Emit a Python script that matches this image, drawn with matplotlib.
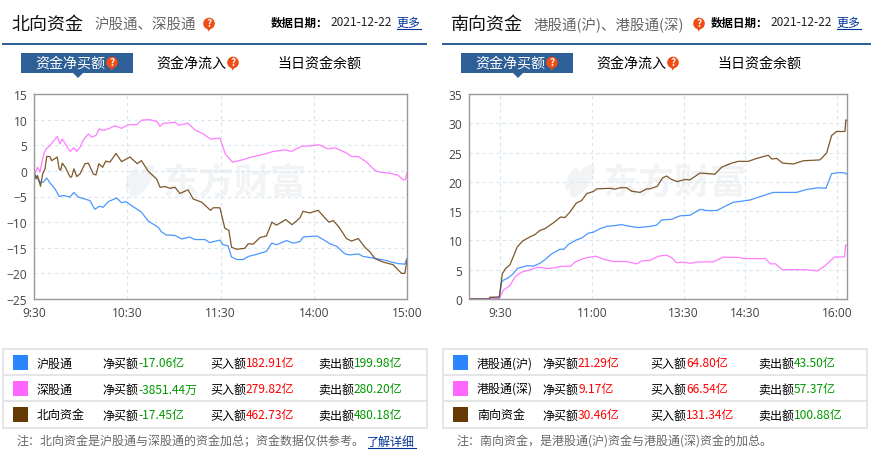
import matplotlib
matplotlib.use('Agg')
from matplotlib import pyplot as plt
from matplotlib.patches import Rectangle, Circle, Polygon, Ellipse

plt.rcParams['font.family'] = ['Noto Sans CJK SC', 'DejaVu Sans']

# --- northbound panel: minutes since 9:30, values in 100m yuan
hgt_minutes = [0, 1.5, 3.6, 5.8, 8, 10, 13.3, 16, 18.7, 23, 25.5, 28.3, 32.6, 35.8, 39, 41.8, 44.4, 47.6, 53, 56.2, 59, 63.7, 69, 73.4, 79.8, 81.9, 85, 90.6, 95, 99.8, 103.4, 109.9, 113, 119.5, 121.5, 124.7, 127, 130.3, 134.5, 137.8, 143, 149.5, 152.8, 156, 162.5, 166.8, 171, 173.2, 181.8, 185, 190.3, 194.6, 200, 203.2, 208.6, 211.8, 218.2, 226.8, 230, 234.4, 238.6, 240]
hgt_values = [-0.6, -1.2, -2.2, -2.2, -1.4, -2.3, -3.5, -5, -4.8, -5.1, -4.2, -5.1, -5.5, -5.8, -7.5, -6.9, -7.1, -6, -5.3, -6.2, -6, -7, -8.05, -9.8, -11, -11.9, -12.5, -12.6, -13.3, -12.9, -13.4, -13.4, -14, -13.5, -14.4, -14.6, -16.8, -17.3, -17.3, -16.7, -16.3, -15.7, -14.1, -14.4, -13.6, -14.1, -13.8, -12.9, -12.7, -13.2, -14.2, -14.7, -16.2, -16.4, -16.2, -16.7, -17, -17.5, -17.8, -18.1, -18.2, -17.06]

sgt_minutes = [0, 1, 2.1, 3.6, 4.7, 6.4, 8, 10, 11.8, 14.8, 16.5, 18, 20, 23, 25.5, 27.3, 29.4, 31.5, 34.8, 36.9, 39.7, 41.8, 44.4, 47.6, 52, 56.2, 60.5, 65.9, 69, 74.5, 79, 81, 83, 87.3, 90.6, 93, 99, 103.4, 108.8, 113.5, 119.5, 123, 127.7, 134.5, 139.9, 147.4, 153.9, 161.4, 165.7, 172, 178.6, 183.5, 189, 193.6, 201, 204.3, 208.6, 214, 219.3, 222.5, 229, 234.4, 237.6, 238.9, 240]
sgt_values = [-0.45, -0.06, 0.7, -0.26, 1.36, 3.6, 4.4, 4.9, 5.6, 6.7, 5.26, 6.2, 5.26, 3.8, 4.5, 3.8, 4.6, 6, 7.2, 6.6, 6.9, 8.2, 7.9, 8.2, 8.8, 8.3, 9, 9, 9.9, 10, 9.6, 8.7, 9.3, 9.35, 9.5, 8.9, 9.3, 8, 7.2, 6.2, 6.4, 3.3, 1.7, 2.2, 2.7, 3.2, 3.8, 4.1, 3.8, 4.8, 4.9, 5.1, 4.3, 4.5, 3.5, 2.8, 2.8, 1.7, 0.1, -0.25, -0.45, -0.9, -1.75, -1.75, -0.39]

north_minutes = [0, 1, 2.1, 4, 5.4, 6.9, 8, 10, 11.2, 14.8, 16, 17, 18, 20, 23, 24, 25.5, 27.3, 29.4, 32.6, 34.8, 38, 39.7, 41.6, 44, 46, 48.7, 52.6, 56.2, 61.6, 66.3, 69, 73.4, 78.8, 81, 84, 87.3, 90.6, 93.8, 99, 102.4, 107.7, 113.5, 115.2, 119.5, 122.7, 125.3, 127, 130.3, 135.6, 137.8, 141, 145.3, 149.5, 153, 155.9, 161.9, 166, 171, 173, 177.4, 182.8, 186, 189.7, 192.5, 196.3, 201, 204.3, 208.6, 212.9, 216.1, 219.3, 224.7, 231, 236.5, 238.6, 240]
north_values = [-0.25, -1.55, -0.9, -3, -0.6, 0.4, 2.8, 2.8, 2, 2.7, 0.4, 0.1, 1.5, 0.7, -1.2, -1.2, 0.4, -1.1, -0.6, 1.4, 1.5, -0.6, -0.8, 1.4, 0.7, 1.9, 1.7, 3.4, 1.8, 2.7, 1.4, 2, -0.1, -1.6, -3.2, -3.05, -3.4, -3.2, -4.4, -3.7, -5.5, -6.1, -7.7, -7.2, -7.2, -11.2, -11.6, -14.9, -15.3, -15.1, -14.2, -14.3, -13, -12.7, -10, -10.6, -9.5, -10.5, -9.2, -7.9, -8.2, -7.7, -8.8, -10, -9.7, -11, -13.2, -13.7, -13.2, -14.9, -15.8, -17.1, -17.8, -18.3, -20, -20, -17.45]

# --- southbound panel: minutes since 9:00, lunch break removed
ggt_sh_minutes = [0, 20, 20.1, 29.4, 31.7, 33.3, 38, 43, 47, 51.3, 57.8, 62.7, 69.2, 74, 80.7, 88.8, 92.7, 97, 105, 110, 116.6, 121.5, 128, 134.5, 141, 149, 157.4, 165.5, 172, 177, 183.5, 188.4, 198, 206.4, 216.2, 226, 232.5, 242.3, 258.3, 274.9, 297.8, 320.6, 330.4, 341.9, 349.4, 354.9, 363, 368, 370]
ggt_sh_values = [0, 0.05, 0.2, 0.2, 2.9, 3.2, 3.6, 4.3, 5.2, 5.45, 5.7, 5.6, 6.1, 6.7, 7.7, 8.5, 8.5, 9.3, 10.1, 10.4, 11.25, 11.4, 12, 12.4, 12.5, 12.7, 12.4, 12.2, 12.3, 12.4, 12.6, 13.5, 13.6, 14.2, 14.3, 15.3, 15.1, 15.1, 16.5, 16.9, 18.2, 18.2, 18.7, 19, 18.9, 21.4, 21.6, 21.5, 21.29]

ggt_sz_minutes = [0, 20, 29.4, 33.3, 39.8, 44.7, 51.3, 57.8, 67.6, 75.8, 82.3, 90.4, 99.3, 103.5, 111.7, 118.2, 124, 131.3, 141, 154, 164, 168.8, 177, 185.1, 193.3, 198.2, 203.1, 209.6, 216.2, 222.7, 239, 248.8, 264.2, 269, 290, 295, 300, 306.4, 329.5, 341, 348, 357.7, 367.6, 368.6, 370]
ggt_sz_values = [0, 0, 0.1, 1.5, 2.3, 3.75, 4.6, 4.9, 5.45, 5.2, 5.3, 5.6, 5.6, 6.3, 6.9, 7.15, 7.3, 6.8, 6.4, 6.4, 6, 6.5, 6.6, 7.3, 7.5, 7.05, 6.2, 6.3, 6.1, 6.3, 6.35, 7.15, 7.1, 6.9, 6.9, 6, 6, 5, 5, 4.8, 5.6, 7.15, 7.2, 9.2, 9.17]

south_minutes = [0, 20, 20.1, 29.4, 32.3, 35.6, 39.8, 47, 52.2, 59.4, 64.3, 69.2, 74, 82.3, 89.5, 93.7, 98.6, 105, 110, 115, 121.5, 124.7, 137.8, 142.7, 147.6, 154, 159, 167.2, 173.7, 177, 184.2, 189.4, 193.3, 198.2, 203.7, 211.3, 216.2, 226, 234.1, 240.6, 247.2, 257, 263.5, 273.3, 281.5, 292.9, 296.2, 301.1, 307, 317.4, 327.2, 343.5, 350, 354.9, 359.8, 368, 368.9, 370]
south_values = [0, 0, 0.3, 0.35, 4.3, 5.2, 5.85, 8.9, 9.9, 10.6, 11, 11.7, 12, 13, 14, 13.9, 14.85, 16.4, 16.8, 18, 18.35, 18.8, 18.9, 18.75, 19, 19, 18.4, 18.2, 18.8, 18.8, 19.25, 20.7, 21, 20.4, 20.05, 20.4, 20.35, 21.5, 21.4, 21.3, 22.5, 23.2, 23.5, 23.5, 24, 24.55, 23.9, 24, 23.2, 23.05, 23.6, 23.75, 24.9, 27.9, 28.6, 28.6, 30.6, 30.46]

north_xticks = [0, 60, 120, 180, 240]
north_xlabels = ['9:30', '10:30', '11:30', '14:00', '15:00']
north_yticks = [-25, -20, -15, -10, -5, 0, 5, 10, 15]
south_xticks = [30, 120, 210, 270, 360]
south_xlabels = ['9:30', '11:00', '13:30', '14:30', '16:00']
south_yticks = [0, 5, 10, 15, 20, 25, 30, 35]

north_rows = [
    ['沪股通', '-17.06亿', '182.91亿', '199.98亿'],
    ['深股通', '-3851.44万', '279.82亿', '280.20亿'],
    ['北向资金', '-17.45亿', '462.73亿', '480.18亿'],
]
south_rows = [
    ['港股通(沪)', '21.29亿', '64.80亿', '43.50亿'],
    ['港股通(深)', '9.17亿', '66.54亿', '57.37亿'],
    ['南向资金', '30.46亿', '131.34亿', '100.88亿'],
]

BLUE = '#2a85ff'
PINK = '#ff66ff'
BROWN = '#663a04'
HEAD = '#2f5f97'
GREEN = '#009900'
RED = '#ff0000'
W, H = 871, 452


def pt(px):
    # font sizes below are given in pixels, the figure is 100 dpi
    return px * 72 / 100


fig = plt.figure(figsize=(W / 100, H / 100), dpi=100, facecolor='white')

# full figure axes in pixel units for the page furniture
bg = fig.add_axes([0, 0, 1, 1])
bg.set_xlim(0, W)
bg.set_ylim(H, 0)
bg.axis('off')


def label(x, y, s, size=12, color='black', **kw):
    # glyphs carry about a pixel of side bearing
    return bg.text(x - 1, y, s, fontsize=pt(size), color=color, va='center', **kw)


def help_icon(x, y):
    bg.add_patch(Circle((x, y - 0.5), 5.8, color='#ee4d14', lw=0, zorder=3))
    bg.add_patch(Polygon([[x - 2, y + 4], [x + 2, y + 4], [x - 0.5, y + 7.5]], color='#ee4d14', lw=0, zorder=3))
    bg.text(x, y - 0.8, '?', fontsize=pt(10), color='white', fontweight='bold', ha='center', va='center', zorder=4)


def link(x, y, s, width):
    label(x, y, s, color='#003399')
    bg.plot([x, x + width], [y + 7, y + 7], color='#003399', lw=0.8)


def header(x0, x1, title, sub, sub_x, icon_x, date_x):
    label(x0 + 10, 25, title, size=18, color='#111111')
    label(sub_x, 25, sub, size=14.5, color='#666666')
    help_icon(icon_x, 25)
    label(date_x, 23, '数据日期：', size=11.5, fontweight='bold')
    label(date_x + 60, 23, '2021-12-22', size=12, color='#222222')
    link(date_x + 125, 23, '更多', 24)
    bg.add_patch(Rectangle((x0, 43.6), x1 - x0, 2, color=HEAD, lw=0))

    # tab strip
    tab = x0 + 19
    bg.add_patch(Rectangle((tab, 54), 112, 20, color=HEAD, lw=0))
    bg.add_patch(Polygon([[tab + 52, 74], [tab + 62, 74], [tab + 57, 79]], color=HEAD, lw=0))
    label(tab + 15, 64, '资金净买额', size=14, color='white')
    help_icon(tab + 91, 64)
    label(tab + 136, 64, '资金净流入', size=14)
    help_icon(tab + 212, 64)
    label(tab + 257, 64, '当日资金余额', size=14)


def watermark(x):
    # faint brand mark behind the plot
    shade = '#f2f3f5'
    bg.add_patch(Ellipse((x + 17, 182), 15, 38, angle=35, color=shade, lw=0))
    bg.add_patch(Ellipse((x + 7, 180), 9, 24, angle=25, color=shade, lw=0))
    bg.text(x + 38, 183, '东方财富', fontsize=pt(36), color=shade, fontweight='bold', va='center')


def table(x0, x1, rows, name_x, net_x, buy_x, sell_x, swatch_x):
    line = '#e3e3e3'
    bg.add_patch(Rectangle((x0, 350), x1 - x0, 79, fill=False, ec=line, lw=1.3))
    for y in [376, 402]:
        bg.plot([x0, x1], [y, y], color=line, lw=1.3)
    for i, c in enumerate([BLUE, PINK, BROWN]):
        y = 364 + 26 * i
        row = rows[i]
        bg.add_patch(Rectangle((swatch_x, y - 8), 15, 15, color=c, lw=0))
        label(name_x, y, row[0])
        label(net_x, y, '净买额')
        label(net_x + 36, y, row[1], color=GREEN if row[1].startswith('-') else RED)
        label(buy_x, y, '买入额')
        label(buy_x + 36, y, row[2], color=RED)
        label(sell_x, y, '卖出额')
        label(sell_x + 36, y, row[3], color=GREEN)


def panel(left, right, xmax, ymin, ymax, xticks, xlabels, yticks, series):
    top, bottom = 95, 300
    ax = fig.add_axes([left / W, 1 - bottom / H, (right - left) / W, (bottom - top) / H])
    ax.patch.set_alpha(0)
    for minutes, values, c in series:
        ax.plot(minutes, values, color=c, lw=0.9, alpha=0.85, solid_joinstyle='round')
    ax.set_xlim(0, xmax)
    ax.set_ylim(ymin, ymax)
    ax.set_xticks(xticks)
    ax.set_xticklabels(xlabels)
    ax.set_yticks(yticks)
    ax.grid(True, color='#d8e6f2', lw=0.8, ls=(0, (3, 3)))
    ax.set_axisbelow(True)
    ax.tick_params(length=0, labelsize=pt(12), labelcolor='#444444', pad=5)
    for s in ax.spines.values():
        s.set_color('#999999')
        s.set_linewidth(1.0)
    for t in ax.get_xticklabels() + ax.get_yticklabels():
        t.set_fontfamily(['Open Sans', 'DejaVu Sans'])
    return ax


header(2, 427, '北向资金', '沪股通、深股通', 95, 209, 272)
header(442, 871, '南向资金', '港股通(沪)、港股通(深)', 534, 699, 712)

watermark(125)
watermark(565)

panel(34.3, 407, 240, -25, 15, north_xticks, north_xlabels, north_yticks, [
    (hgt_minutes, hgt_values, BLUE),
    (sgt_minutes, sgt_values, PINK),
    (north_minutes, north_values, BROWN),
])
panel(469.3, 847, 370, 0, 35, south_xticks, south_xlabels, south_yticks, [
    (ggt_sh_minutes, ggt_sh_values, BLUE),
    (ggt_sz_minutes, ggt_sz_values, PINK),
    (south_minutes, south_values, BROWN),
])

table(2.5, 427, north_rows, 38, 103, 211, 319, 13)
table(442.5, 866.5, south_rows, 478, 543, 651, 759, 453)

label(17, 442, '注：北向资金是沪股通与深股通的资金加总；资金数据仅供参考。', color='#666666')
link(368, 442, '了解详细', 48)
label(457, 442, '注：南向资金，是港股通(沪)资金与港股通(深)资金的加总。', color='#666666')

plt.savefig('out.png', dpi=100)
